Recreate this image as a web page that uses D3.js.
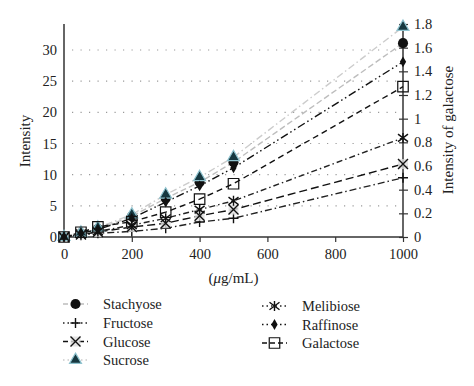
<!DOCTYPE html>
<html>
<head>
<meta charset="utf-8">
<script src="https://d3js.org/d3.v7.min.js"></script>
<style>
    body { margin: 0; background: #fff; }
    text { font-family: "Liberation Serif", "Times New Roman", serif; fill: #222; }
</style>
</head>
<body>
<svg id="drawing_region"></svg>
<script>
// concentrations (ug/mL)
const conc = [0, 50, 100, 200, 300, 400, 500, 1000];

// intensities (left axis)
const stachyose = [0, 0.6, 1.3, 3.3, 6.2, 8.8, 12.0, 31.1];
const fructose  = [0, 0.3, 0.6, 0.9, 1.4, 2.4, 3.0, 9.5];
const glucose   = [0, 0.4, 0.8, 1.6, 2.2, 3.4, 4.4, 11.7];
const sucrose   = [0, 0.7, 1.5, 3.6, 6.8, 9.6, 12.8, 33.7];
const melibiose = [0, 0.4, 0.9, 1.9, 3.0, 4.4, 5.8, 15.9];
const raffinose = [0, 0.6, 1.2, 3.0, 5.6, 8.2, 11.1, 28.1];
// galactose is on the right axis
const galactose = [0, 0.04, 0.085, 0.13, 0.21, 0.32, 0.45, 1.27];

const xTicks = [0, 200, 400, 600, 800, 1000];
const yTicks = [0, 5, 10, 15, 20, 25, 30];
const y2Ticks = [0, 0.2, 0.4, 0.6, 0.8, 1, 1.2, 1.4, 1.6, 1.8];

const series = [
    { name: 'Stachyose', values: stachyose, axis: 'left',  marker: 'circle',   stroke: '#bdbdbd', dash: '6,3' },
    { name: 'Fructose',  values: fructose,  axis: 'left',  marker: 'plus',     stroke: '#222',    dash: '7,3,1.5,3' },
    { name: 'Glucose',   values: glucose,   axis: 'left',  marker: 'times',    stroke: '#111',    dash: '8,4' },
    { name: 'Sucrose',   values: sucrose,   axis: 'left',  marker: 'triangle', stroke: '#cccccc', dash: '7,3,1.5,3' },
    { name: 'Melibiose', values: melibiose, axis: 'left',  marker: 'asterisk', stroke: '#222',    dash: '6,3,1.5,3' },
    { name: 'Raffinose', values: raffinose, axis: 'left',  marker: 'diamond',  stroke: '#111',    dash: '8,3,1.5,3,1.5,3' },
    { name: 'Galactose', values: galactose, axis: 'right', marker: 'square',   stroke: '#111',    dash: '6,4' }
];

const config = {
    width: 474,
    height: 386,
    margin: { top: 24, right: 71, bottom: 149, left: 64 }
};

const svg = d3.select('#drawing_region')
    .attr('width', config.width)
    .attr('height', config.height);

const inner_width = config.width - config.margin.left - config.margin.right;
const inner_height = config.height - config.margin.top - config.margin.bottom;

const chart = svg.append('g')
    .attr('transform', `translate(${config.margin.left}, ${config.margin.top})`);

const xscale = d3.scaleLinear().domain([0, 1000]).range([0, inner_width]);
const yscale = d3.scaleLinear().domain([0, 34.17]).range([inner_height, 0]);
const y2scale = d3.scaleLinear().domain([0, 1.8]).range([inner_height, 0]);

// dotted grid
chart.append('g')
    .selectAll('line')
    .data(yTicks.filter(d => d > 0))
    .join('line')
    .attr('x1', 8).attr('x2', inner_width)
    .attr('y1', d => yscale(d)).attr('y2', d => yscale(d))
    .attr('stroke', '#9a9a9a')
    .attr('stroke-width', 1.2)
    .attr('stroke-dasharray', '1.2,7.3');

// axes
const xaxis = d3.axisBottom(xscale).tickValues(xTicks).tickSize(5).tickPadding(7).tickFormat(d3.format('d'));
const yaxis = d3.axisLeft(yscale).tickValues(yTicks).tickSize(0).tickPadding(7);
const y2axis = d3.axisRight(y2scale).tickValues(y2Ticks).tickSize(5).tickPadding(6).tickFormat(d => d);

function styleAxis(g) {
    g.select('.domain').attr('stroke', '#333').attr('stroke-width', 1.5);
    g.selectAll('.tick line').attr('stroke', '#333').attr('stroke-width', 1.2);
    g.selectAll('.tick text')
        .attr('fill', '#222')
        .style('font-family', '"Liberation Serif", serif')
        .style('font-size', '14.5px');
}

chart.append('g')
    .attr('transform', `translate(0, ${inner_height})`)
    .call(xaxis)
    .call(g => g.select('.domain').attr('d', `M0,0H${inner_width}`))
    .call(styleAxis);

chart.append('g')
    .call(yaxis)
    .call(g => g.select('.domain').attr('d', `M0,0V${inner_height}`))
    .call(styleAxis);

chart.append('g')
    .attr('transform', `translate(${inner_width}, 0)`)
    .call(y2axis)
    .call(g => g.select('.domain').attr('d', `M0,0V${inner_height}`))
    .call(g => g.selectAll('.tick line').attr('x1', -4))
    .call(styleAxis);

// axis titles
svg.append('text')
    .attr('text-anchor', 'middle')
    .attr('transform', `translate(30, 141) rotate(-90)`)
    .style('font-size', '15px')
    .text('Intensity');

svg.append('text')
    .attr('text-anchor', 'middle')
    .attr('transform', `translate(453, 130) rotate(-90)`)
    .style('font-size', '15px')
    .text('Intensity of galactose');

const xlabel = svg.append('text')
    .attr('text-anchor', 'middle')
    .attr('x', config.margin.left + inner_width / 2)
    .attr('y', 283)
    .style('font-size', '15px');
xlabel.append('tspan').text('(');
xlabel.append('tspan').style('font-style', 'italic').text('\u03bc');
xlabel.append('tspan').text('g/mL)');

// marker shapes
function markerPath(type) {
    const s = 5;
    if (type === 'plus') return `M${-s},0H${s}M0,${-s}V${s}`;
    if (type === 'times') return `M${-s},${-s}L${s},${s}M${-s},${s}L${s},${-s}`;
    if (type === 'asterisk') return `M0,${-s}V${s}M${-s},${-s * 0.75}L${s},${s * 0.75}M${-s},${s * 0.75}L${s},${-s * 0.75}`;
    if (type === 'circle') return d3.symbol(d3.symbolCircle, 80)();
    if (type === 'triangle') return d3.symbol(d3.symbolTriangle, 62)();
    if (type === 'diamond') return d3.symbol(d3.symbolDiamond, 34)();
    if (type === 'square') return d3.symbol(d3.symbolSquare, 110)();
}

function drawMarker(g, type) {
    if (type === 'times') {
        g.append('rect').attr('x', -5).attr('y', -5).attr('width', 10).attr('height', 10)
            .attr('fill', '#dedede').attr('opacity', 0.8);
    }
    const p = g.append('path').attr('d', markerPath(type));
    if (type === 'plus' || type === 'times' || type === 'asterisk') {
        p.attr('fill', 'none').attr('stroke', '#111').attr('stroke-width', 1.4);
    } else if (type === 'square') {
        p.attr('fill', 'none').attr('stroke', '#111').attr('stroke-width', 1.2);
    } else if (type === 'triangle') {
        p.attr('fill', '#173840').attr('stroke', '#8fc3cf').attr('stroke-width', 1.2);
    } else {
        p.attr('fill', '#111');
    }
}

// lines
series.forEach(s => {
    const ys = s.axis === 'left' ? yscale : y2scale;
    const line = d3.line()
        .x((d, i) => xscale(conc[i]))
        .y(d => ys(d));
    chart.append('path')
        .datum(s.values)
        .attr('d', line)
        .attr('fill', 'none')
        .attr('stroke', s.stroke)
        .attr('stroke-width', 1.4)
        .attr('stroke-dasharray', s.dash);
});

// markers
series.forEach(s => {
    const ys = s.axis === 'left' ? yscale : y2scale;
    chart.append('g')
        .selectAll('g')
        .data(s.values)
        .join('g')
        .attr('transform', (d, i) => `translate(${xscale(conc[i])}, ${ys(d)})`)
        .each(function() { drawMarker(d3.select(this), s.marker); });
});

// legend
const legendPos = [
    { x: 63, y: 304 }, { x: 63, y: 323 }, { x: 63, y: 341.5 }, { x: 63, y: 360 },
    { x: 262, y: 306 }, { x: 262, y: 324.5 }, { x: 262, y: 343 }
];

const legend = svg.append('g');
series.forEach((s, i) => {
    const p = legendPos[i];
    const item = legend.append('g').attr('transform', `translate(${p.x}, ${p.y})`);
    item.append('line')
        .attr('x1', 0).attr('x2', 25)
        .attr('stroke', s.stroke)
        .attr('stroke-width', 1.4)
        .attr('stroke-dasharray', s.dash.split(',').length > 2 ? '1.5,3' : '5,3');
    const m = item.append('g').attr('transform', 'translate(12.5, 0)');
    drawMarker(m, s.marker);
    item.append('text')
        .attr('x', 40)
        .attr('dy', '0.35em')
        .style('font-size', '14.5px')
        .text(s.name);
});
</script>
</body>
</html>
